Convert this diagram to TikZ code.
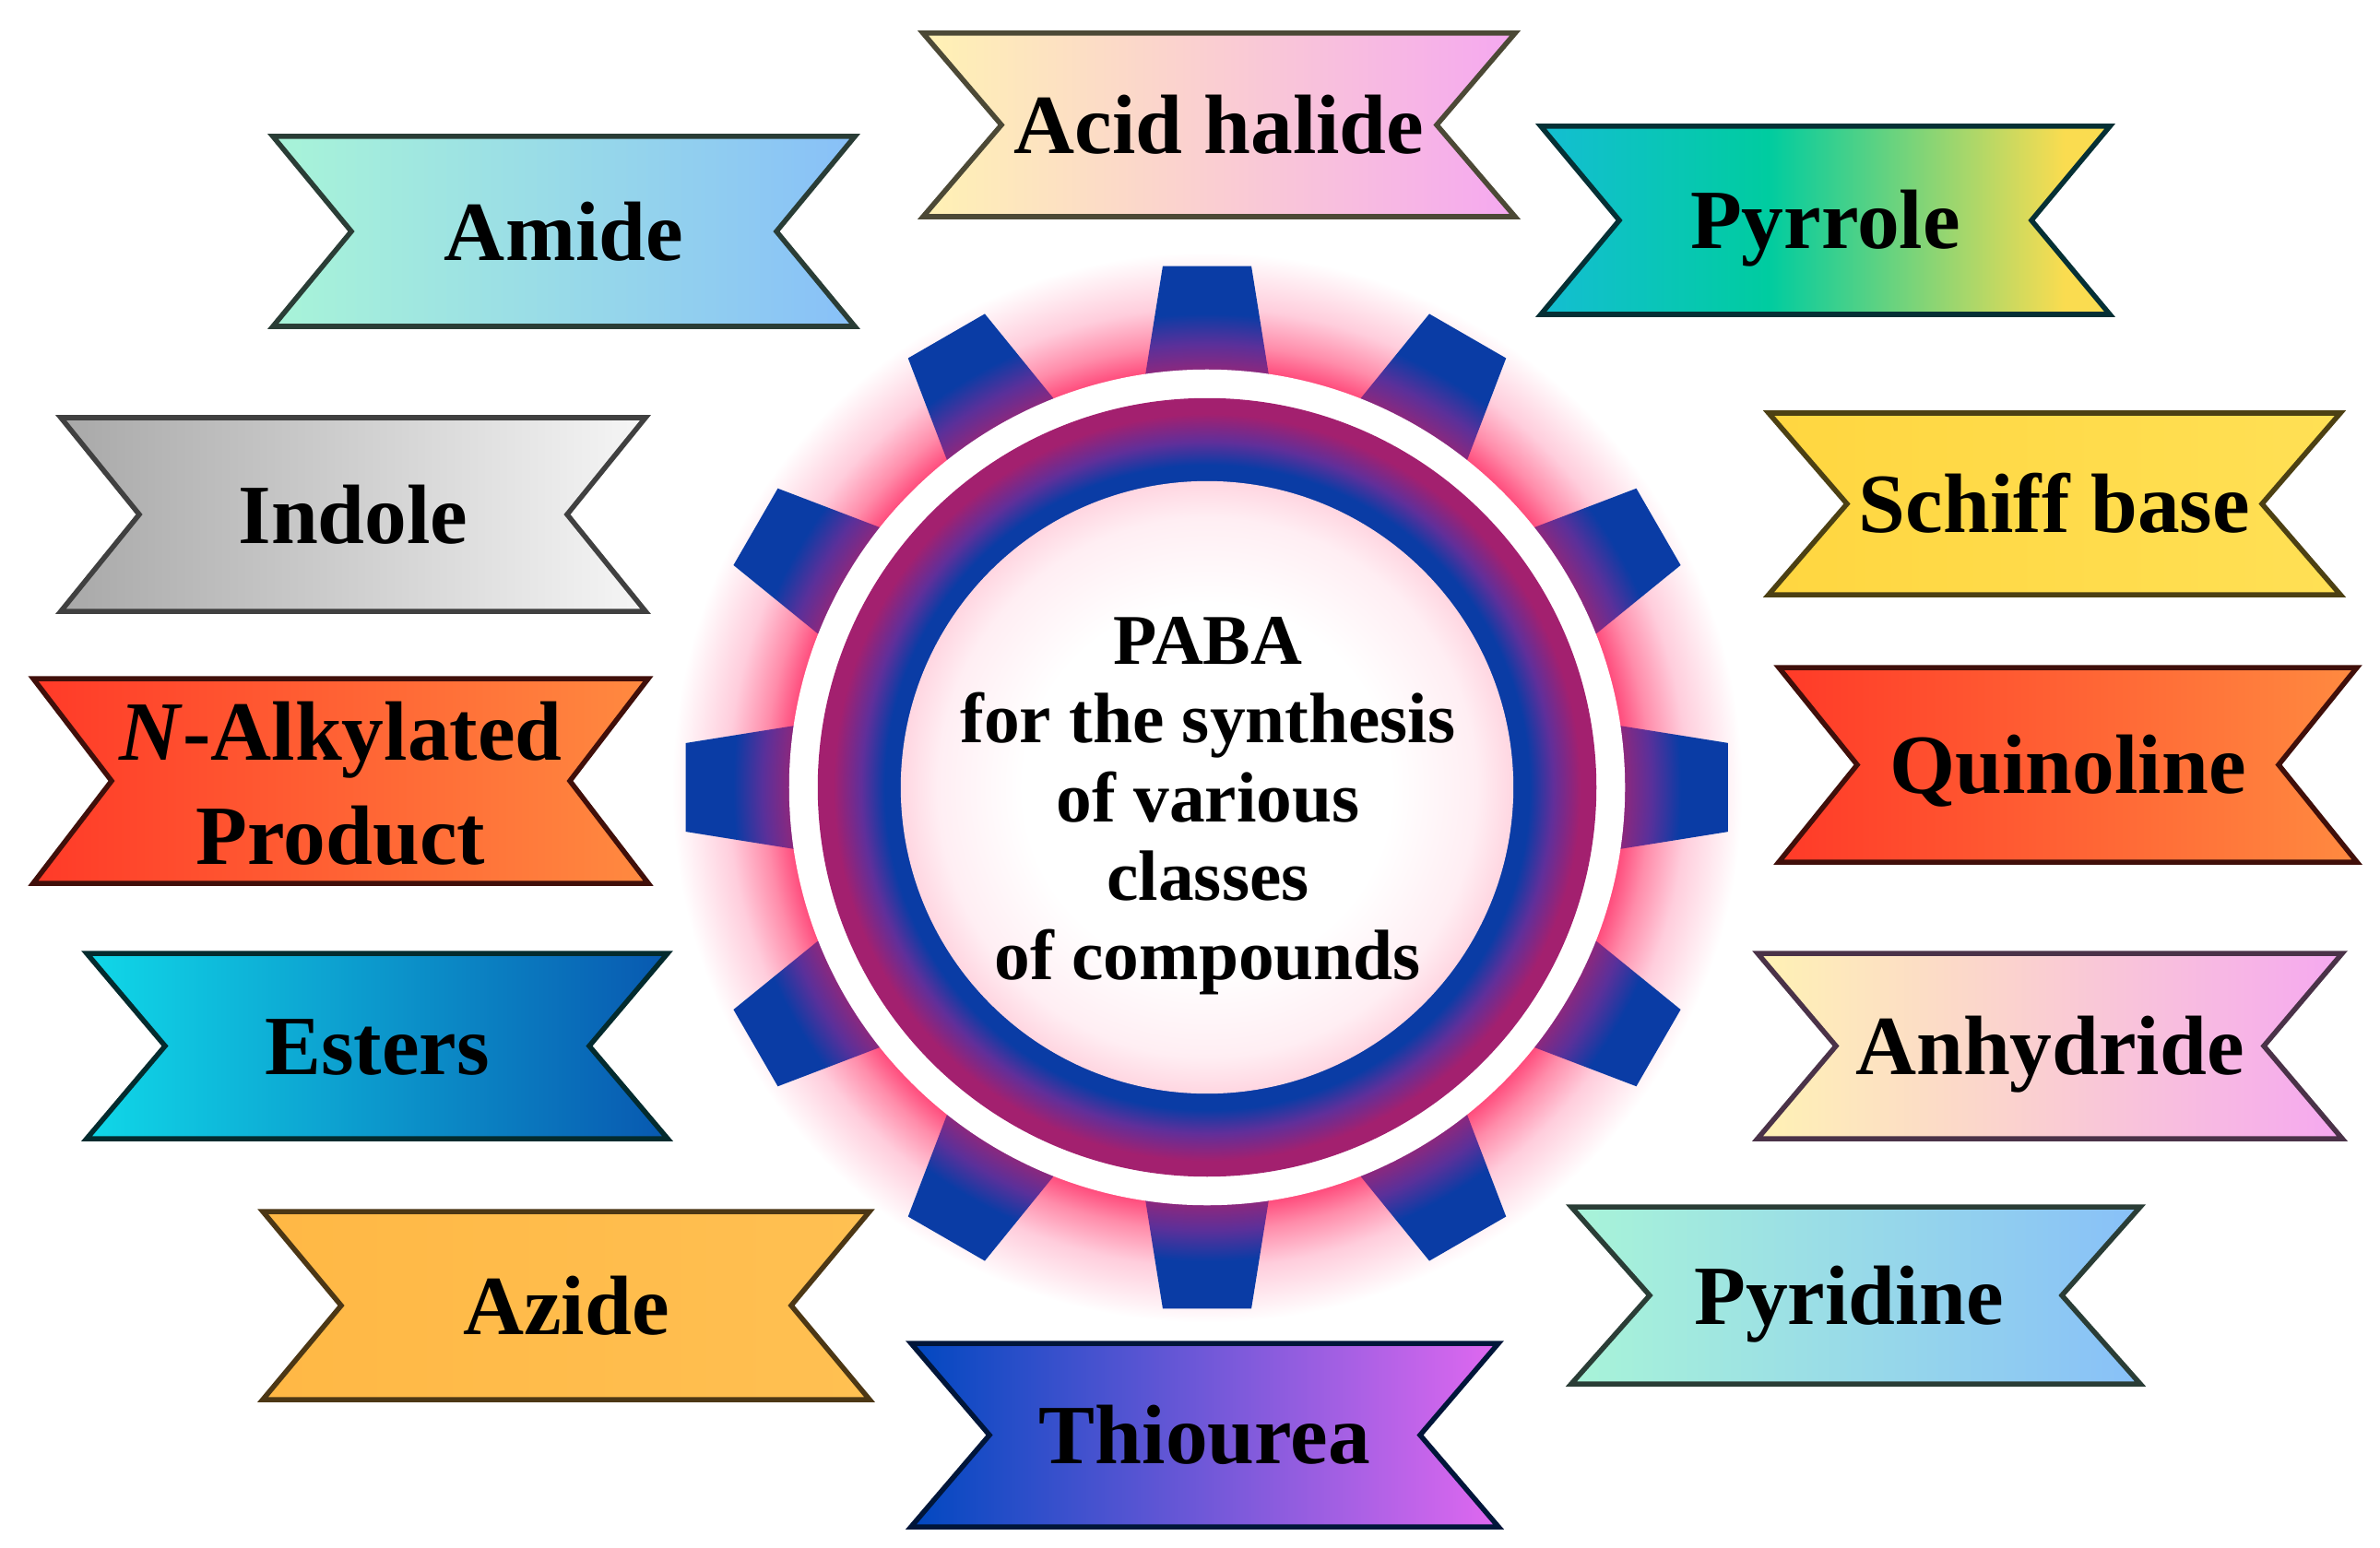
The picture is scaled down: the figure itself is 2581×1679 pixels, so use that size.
\documentclass[tikz,border=0pt]{standalone}
\usepackage{fontspec}
\setmainfont{Liberation Serif}
\usetikzlibrary{calc}
% gear colours
\definecolor{gblue}{HTML}{0A3CA5}
\definecolor{gpurple}{HTML}{602F9A}
\definecolor{gmag}{HTML}{A3206F}
\definecolor{toothin}{HTML}{92277A}
\definecolor{toothmid}{HTML}{5A309A}
\definecolor{glowpink}{HTML}{FF4678}
\definecolor{glowmid}{HTML}{FF8CAA}
\definecolor{glowlight}{HTML}{FFCDDC}
\definecolor{innerpinkA}{HTML}{FFEEF3}
\definecolor{innerpinkB}{HTML}{FFD6E1}
% banner colours
\definecolor{acidL}{HTML}{FFF2B4}
\definecolor{acidR}{HTML}{F5A8F0}
\definecolor{amideL}{HTML}{A8F4D8}
\definecolor{amideR}{HTML}{88C0F8}
\definecolor{pyrA}{HTML}{14BED2}
\definecolor{pyrB}{HTML}{00CCA0}
\definecolor{pyrC}{HTML}{FADC50}
\definecolor{indL}{HTML}{A8A8A8}
\definecolor{indR}{HTML}{F6F6F6}
\definecolor{schL}{HTML}{FFD640}
\definecolor{schR}{HTML}{FFE055}
\definecolor{redL}{HTML}{FF3A28}
\definecolor{redR}{HTML}{FF8A40}
\definecolor{estL}{HTML}{10D8E8}
\definecolor{estR}{HTML}{0858B0}
\definecolor{azL}{HTML}{FFB845}
\definecolor{azR}{HTML}{FFC052}
\definecolor{thL}{HTML}{0048C0}
\definecolor{thR}{HTML}{E068F0}
\pgfdeclareradialshading{glowshade}{\pgfpoint{0bp}{0bp}}{color(0bp)=(glowpink); color(19.4bp)=(glowpink); color(20.7bp)=(glowmid); color(22.4bp)=(glowlight); color(25bp)=(white); color(50bp)=(white)}
\pgfdeclareradialshading{teethshade}{\pgfpoint{0bp}{0bp}}{color(0bp)=(toothin); color(18.7bp)=(toothin); color(20.04bp)=(toothmid); color(21.4bp)=(gblue); color(50bp)=(gblue)}
\pgfdeclareradialshading{ringshade}{\pgfpoint{0bp}{0bp}}{color(0bp)=(gblue); color(20.7bp)=(gblue); color(22.2bp)=(gpurple); color(24bp)=(gmag); color(50bp)=(gmag)}
\pgfdeclareradialshading{innershade}{\pgfpoint{0bp}{0bp}}{color(0bp)=(white); color(15bp)=(white); color(22bp)=(innerpinkA); color(25bp)=(innerpinkB); color(50bp)=(innerpinkB)}
\pgfdeclarehorizontalshading{pyrshade}{100bp}{color(0bp)=(pyrA); color(25bp)=(pyrA); color(45bp)=(pyrB); color(71bp)=(pyrC); color(100bp)=(pyrC)}
% ribbon shape: L R T B style
\newcommand{\ribbonshape}[5]{%
  \path[ribbon,#5] (#1,#3) -- (#2,#3) -- ({#2-85},{(#3+#4)/2}) -- (#2,#4) -- (#1,#4) -- ({#1+85},{(#3+#4)/2}) -- cycle;}
\begin{document}
\begin{tikzpicture}[x=0.01cm,y=-0.01cm,
  ribbon/.style={shade,line width=0.55mm,line join=miter},
  lbl/.style={font=\fontsize{26}{31}\selectfont\bfseries,anchor=base,inner sep=0pt},
  centertext/.style={font=\fontsize{22}{24.3}\selectfont\bfseries,align=center,inner sep=0pt}]
\useasboundingbox (0,0) rectangle (2581,1679);
\fill[white] (0,0) rectangle (2581,1679);
\coordinate (C) at (1309,854);
% glow
\shade[shading=glowshade] (C) circle (5.8cm);
% teeth
\begin{scope}
\clip \foreach \a in {0,30,...,330} { ($(C)+(\a-4.86:5.67cm)$) -- ($(C)+(\a+4.86:5.67cm)$) -- ($(C)+(\a+8.79:4.452cm)$) -- ($(C)+(\a-8.79:4.452cm)$) -- cycle };
\shade[shading=teethshade] (C) circle (6cm);
\end{scope}
% rings
\fill[white] (C) circle (4.53cm);
\shade[shading=ringshade] (C) circle (4.22cm);
\shade[shading=innershade] (C) circle (3.32cm);
\node[centertext] (paba) at (1310,874) {PABA\\for the synthesis\\of various\\classes\\of compounds};
% ribbons
\ribbonshape{1001}{1643}{36}{235}{left color=acidL,right color=acidR,draw=acidL!30!black}
\node[lbl] (acid) at (1322,166.5) {Acid halide};
\ribbonshape{296}{927}{148}{354}{left color=amideL,right color=amideR,draw=amideL!25!black}
\node[lbl] (amide) at (611.5,282) {Amide};
\ribbonshape{1671}{2288}{137}{341}{shading=pyrshade,draw=pyrA!25!black}
\node[lbl] (pyrrole) at (1979.5,270) {Pyrrole};
\ribbonshape{66}{700}{453}{663}{left color=indL,right color=indR,draw=black!75}
\node[lbl] (indole) at (383,589) {Indole};
\ribbonshape{1918}{2538}{448}{645}{left color=schL,right color=schR,draw=schL!30!black}
\node[lbl] (schiff) at (2228,577.5) {Schiff base};
\ribbonshape{36}{703}{736}{958}{left color=redL,right color=redR,draw=redL!25!black}
\node[lbl,anchor=center,align=center,font=\fontsize{26}{32}\selectfont\bfseries] (nalk) at (369.5,850) {\textit{N}-Alkylated\\Product};
\ribbonshape{1929}{2556}{724}{935}{left color=redL,right color=redR,draw=redL!25!black}
\node[lbl] (quin) at (2242.5,860.5) {Quinoline};
\ribbonshape{94}{724}{1034}{1235}{left color=estL,right color=estR,draw=estL!20!black}
\node[lbl] (esters) at (409,1165.5) {Esters};
\ribbonshape{1906}{2540}{1034}{1235}{left color=acidL,right color=acidR,draw=acidR!30!black}
\node[lbl] (anhyd) at (2223,1165.5) {Anhydride};
\ribbonshape{285}{943}{1314}{1518}{left color=azL,right color=azR,draw=azL!30!black}
\node[lbl] (azide) at (614,1447) {Azide};
\ribbonshape{1704}{2321}{1309}{1501}{left color=amideL,right color=amideR,draw=amideL!25!black}
\node[lbl] (pyridine) at (2005,1436) {Pyridine};
\ribbonshape{988}{1625}{1457}{1656}{left color=thL,right color=thR,draw=thL!30!black}
\node[lbl] (thiourea) at (1306.5,1587.5) {Thiourea};
\end{tikzpicture}
\end{document}
